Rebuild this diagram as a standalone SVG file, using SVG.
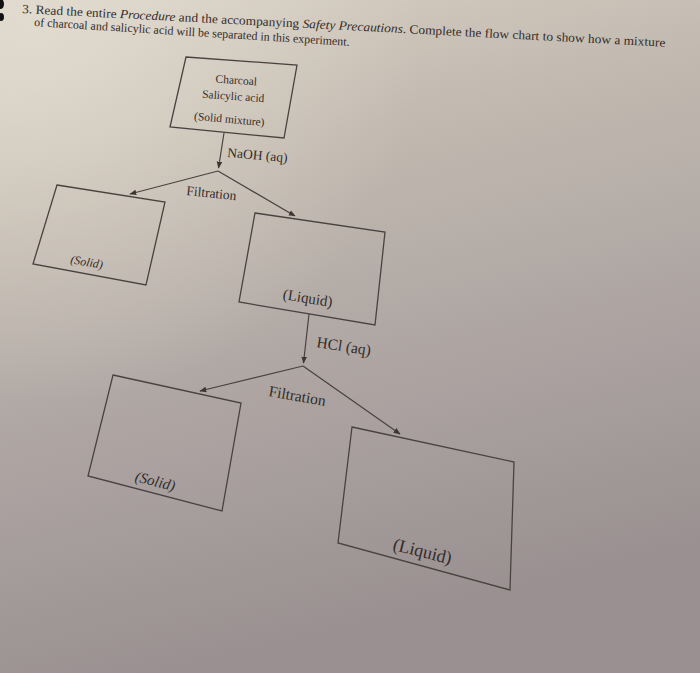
<svg xmlns="http://www.w3.org/2000/svg" width="700" height="673" viewBox="0 0 700 673">
<defs>
<linearGradient id="bg" x1="0" y1="0" x2="0.25" y2="1">
<stop offset="0" stop-color="#dad2c6"/>
<stop offset="0.3" stop-color="#c2bab0"/>
<stop offset="0.7" stop-color="#aaa1a0"/>
<stop offset="1" stop-color="#9a9091"/>
</linearGradient>
<radialGradient id="hl" cx="0.05" cy="0.05" r="0.55">
<stop offset="0" stop-color="#e6dfd3" stop-opacity="0.7"/>
<stop offset="1" stop-color="#e6dfd3" stop-opacity="0"/>
</radialGradient>
<marker id="ah" viewBox="0 0 10 10" refX="9" refY="5" markerWidth="7" markerHeight="7" markerUnits="userSpaceOnUse" orient="auto">
<path d="M0,1 L10,5 L0,9 Z" fill="#3e3634"/>
</marker>
<style>
.box{fill:none;stroke:#4a4240;stroke-width:1.3}
.ln{fill:none;stroke:#4a4240;stroke-width:1.2}
.t{font-family:"Liberation Serif",serif;fill:#332c2a}
.i{font-style:italic}
</style>
</defs>
<rect width="700" height="673" fill="url(#bg)"/>
<rect width="700" height="673" fill="url(#hl)"/>
<ellipse cx="1" cy="4" rx="3" ry="5" fill="#111"/>
<ellipse cx="1" cy="17" rx="3" ry="4" fill="#111"/>

<g id="header">
<text class="t" font-size="12.5" transform="translate(22,13) rotate(3)" textLength="644" lengthAdjust="spacingAndGlyphs">3. Read the entire <tspan class="i">Procedure</tspan> and the accompanying <tspan class="i">Safety Precautions</tspan>. Complete the flow chart to show how a mixture</text>
<text class="t" font-size="12" transform="translate(34,26) rotate(3.6)" textLength="316" lengthAdjust="spacingAndGlyphs">of charcoal and salicylic acid will be separated in this experiment.</text>
</g>

<g id="connectors">
<line class="ln" x1="224" y1="133" x2="218.5" y2="168" marker-end="url(#ah)"/>
<line class="ln" x1="218" y1="171" x2="130" y2="194" marker-end="url(#ah)"/>
<line class="ln" x1="218" y1="171" x2="295" y2="216" marker-end="url(#ah)"/>
<line class="ln" x1="309" y1="314" x2="303.5" y2="363" marker-end="url(#ah)"/>
<line class="ln" x1="303" y1="366" x2="200" y2="391" marker-end="url(#ah)"/>
<line class="ln" x1="303" y1="366" x2="400" y2="434" marker-end="url(#ah)"/>
<text class="t" font-size="13.5" transform="translate(227,157) rotate(5)">NaOH (aq)</text>
<text class="t" font-size="13.5" transform="translate(186,195) rotate(6)">Filtration</text>
<text class="t" font-size="15.5" transform="translate(316,347) rotate(9)">HCl (aq)</text>
<text class="t" font-size="15.5" transform="translate(268,396) rotate(10)">Filtration</text>
</g>

<g id="n_mixture">
<polygon class="box" points="186,57 297,65 284,138 170,127"/>
<text class="t" font-size="11.5" text-anchor="middle" transform="translate(236,84) rotate(4)">Charcoal</text>
<text class="t" font-size="11.5" text-anchor="middle" transform="translate(233,100) rotate(4)">Salicylic acid</text>
<text class="t" font-size="11.5" text-anchor="middle" transform="translate(229,123) rotate(5)">(Solid mixture)</text>
</g>

<g id="n_solid1">
<polygon class="box" points="57,185 165,202 146,285 33,264"/>
<text class="t i" font-size="12" text-anchor="middle" transform="translate(86,266) rotate(10)">(Solid)</text>
</g>

<g id="n_liquid1">
<polygon class="box" points="255,213 385,232 375,325 239,302"/>
<text class="t" font-size="15" text-anchor="middle" transform="translate(307,303) rotate(9)">(Liquid)</text>
</g>

<g id="n_solid2">
<polygon class="box" points="113,375 241,403 222,511 88,476"/>
<text class="t i" font-size="15" text-anchor="middle" transform="translate(154,486) rotate(14)">(Solid)</text>
</g>

<g id="n_liquid2">
<polygon class="box" points="352,427 514,462 510,590 338,543"/>
<text class="t" font-size="18" text-anchor="middle" transform="translate(421,557) rotate(14)">(Liquid)</text>
</g>
</svg>
